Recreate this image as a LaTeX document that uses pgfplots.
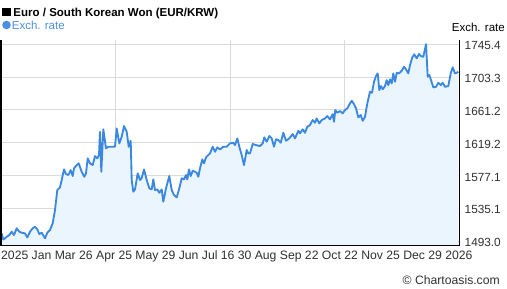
\documentclass[border=0pt]{standalone}
\usepackage{pgfplots}
\pgfplotsset{compat=1.18}
\usepackage{pgfplotstable}
\usepackage{fontspec}
\setmainfont{Liberation Sans}
\definecolor{lineblue}{HTML}{3A88E0}
\definecolor{fillblue}{HTML}{EBF5FE}
\definecolor{gridgray}{HTML}{DADADA}
\definecolor{legendblue}{HTML}{4A90E2}
\definecolor{textgray}{HTML}{303030}
\pgfplotstableread{
px val
1.7 1502.9
3.3 1495.0
6.7 1498.6
9.3 1500.8
11.7 1505.1
14 1500.8
16.7 1509.4
19.3 1505.1
21.7 1503.8
25 1502.9
27.3 1497.8
30 1505.1
32.7 1509.4
35 1511.4
37.3 1508.2
39.3 1502.1
41.7 1503.8
45 1496.6
47.3 1503.8
50 1507.2
52.7 1515.8
55 1532.8
57.3 1558.5
60 1561.9
61.7 1571.3
64 1585.0
66 1579.0
68.3 1577.7
70.7 1584.1
72.7 1576.4
74 1586.3
76.7 1590.5
78.7 1592.7
81.7 1581.9
84.3 1575.5
86 1579.9
87.7 1599.1
90 1592.7
92.7 1590.5
95 1602.0
97.3 1599.1
99 1603.3
100 1633.2
101.3 1581.9
103.3 1636.3
106 1611.9
108.3 1614.0
115 1614.0
116.7 1637.5
119.3 1618.3
121.7 1626.8
124 1640.5
126.7 1633.2
128.7 1614.0
130.7 1621.7
131.7 1571.3
133.3 1556.3
135 1559.3
137.7 1579.9
140 1571.3
141.7 1573.5
144 1585.0
146.7 1571.3
149.3 1560.7
151.7 1559.3
153.3 1572.2
155 1558.5
157.3 1559.3
159.3 1555.0
161.7 1559.3
163.3 1543.5
166 1560.7
169.3 1576.4
171.7 1558.5
174 1552.1
176.7 1549.1
179.3 1560.7
181.7 1573.5
184 1572.2
186 1577.7
187.3 1572.2
189 1585.0
190.7 1576.4
192.7 1583.2
195 1581.9
196.7 1580.6
198.3 1575.5
200 1586.3
202.3 1597.8
204 1592.7
206 1600.4
208.3 1603.3
210 1605.5
212.7 1614.0
215 1607.5
217.3 1613.2
220 1610.6
223.3 1614.0
226.7 1614.0
230 1618.3
233.3 1619.1
235 1616.1
237.3 1624.7
239.3 1614.0
241.7 1603.3
244 1590.5
246.7 1609.8
248.3 1605.5
250 1605.5
252.7 1617.5
256 1616.1
260 1614.9
262.7 1618.3
264.3 1626.1
266.7 1620.3
269.3 1627.7
271.7 1624.7
274 1614.0
276 1623.5
278.3 1622.6
280.7 1619.1
283.3 1631.9
286 1621.7
289.3 1624.7
292.7 1630.3
295 1624.7
298.3 1634.5
300 1631.2
302.7 1636.3
305 1631.9
307.3 1639.6
310 1641.8
312.7 1648.2
315 1644.7
316.7 1650.3
319.3 1644.0
321.7 1648.2
325 1650.3
327.3 1653.3
330 1649.1
332.7 1655.8
334 1646.0
335.3 1661.0
337.3 1657.6
340 1659.7
342.7 1656.8
345 1661.0
347.3 1663.2
350 1669.6
351.7 1672.9
354 1668.6
356 1663.2
358.3 1651.6
360.7 1654.6
362.7 1647.2
365 1652.4
367.3 1669.6
370 1684.5
372 1683.2
374 1697.3
376 1704.6
377.7 1708.0
379.3 1686.6
381 1691.8
382.7 1687.6
385 1691.8
386.7 1699.4
388.3 1693.0
390 1700.4
391.7 1695.2
393.3 1708.0
395 1697.3
396.7 1708.8
399 1708.0
401.7 1711.3
404 1716.5
406 1713.2
408.3 1708.0
410 1718.7
412.3 1728.5
414.3 1732.4
416.7 1727.3
419 1732.8
421 1730.1
423.3 1729.3
426 1745.4
427.7 1703.6
429.3 1705.9
431 1699.4
433.3 1690.1
436 1690.8
438.3 1696.0
440.7 1693.0
442.7 1696.0
445 1690.8
448.3 1691.8
450.7 1708.0
452.7 1715.7
455 1708.0
456.7 1708.8
458.3 1710.1
}\eurkrw
\begin{document}
\begin{tikzpicture}[x=1bp,y=1bp]
\useasboundingbox (0,0) rectangle (507,288);
\begin{axis}[
  name=ax,
  at={(1.5bp,42.5bp)}, anchor=south west,
  scale only axis, width=457.5bp, height=205.5bp,
  xmin=1.5, xmax=459, ymin=1487.4, ymax=1750.8,
  xtick={115.9,230.3,344.6}, xticklabels={},
  ytick={1493.0,1535.1,1577.1,1619.2,1661.2,1703.3,1745.4},
  yticklabels={1493.0,1535.1,1577.1,1619.2,1661.2,1703.3,1745.4},
  yticklabel pos=right,
  xmajorgrids, ymajorgrids,
  grid style={gridgray, line width=1bp},
  major tick length=0pt,
  axis line style={draw=none},
  yticklabel style={font=\fontsize{11.8bp}{14bp}\selectfont, text=textgray, anchor=west, inner sep=0pt, xshift=5.5bp, yshift=-1.5bp},
  /pgf/number format/assume math mode=true,
]
\addplot[draw=none, fill=fillblue] table[x=px,y=val]{\eurkrw} \closedcycle;
\addplot[lineblue, line width=1.85bp, line join=round, mark=none] table[x=px,y=val]{\eurkrw};
\end{axis}
\draw[black, line width=2bp] ([xshift=-0.5bp]ax.south west) -- ([xshift=-0.5bp]ax.north west);
\draw[black, line width=1.5bp] ([xshift=-1.5bp]ax.south west) -- ([xshift=0.5bp]ax.south east);
\draw[black, line width=1bp] (ax.south east) -- (ax.north east);
\fill[black] (2,272) rectangle (11,280);
\node[anchor=base west, inner sep=0pt, font=\bfseries\fontsize{11.5bp}{13bp}\selectfont] at (13.3,271.3) {Euro / South Korean Won (EUR/KRW)};
\fill[legendblue] (6.5,263) circle (4.3);
\node[anchor=base west, inner sep=0pt, text=legendblue, font=\fontsize{11.5bp}{13bp}\selectfont] at (11.7,258.8) {Exch. rate};
\node[anchor=base west, inner sep=0pt, font=\fontsize{11.5bp}{13bp}\selectfont] at (451.7,256.3) {Exch. rate};
\node[anchor=base west, inner sep=0pt, text=textgray, font=\fontsize{12.2bp}{14bp}\selectfont] at (1,28.5) {2025 Jan Mar 26 Apr 25 May 29 Jun Jul 16 30 Aug Sep 22 Oct 22 Nov 25 Dec 29 2026};
\node[anchor=base east, inner sep=0pt, text=textgray, font=\fontsize{12.2bp}{14bp}\selectfont] at (500,4) {\textcopyright\ Chartoasis.com};
\end{tikzpicture}
\end{document}
